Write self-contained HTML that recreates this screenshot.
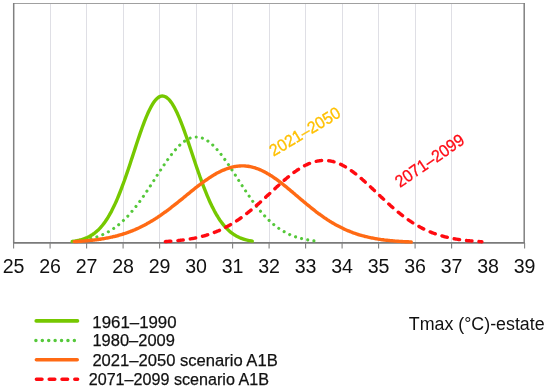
<!DOCTYPE html>
<html><head><meta charset="utf-8"><title>Tmax</title>
<style>
html,body{margin:0;padding:0;background:#fff;}
svg{display:block;}
text{font-family:"Liberation Sans",sans-serif;}
</style></head><body>
<svg width="550" height="389" viewBox="0 0 550 389">
<rect width="550" height="389" fill="#fff"/>
<g stroke="#dfdfe5" stroke-width="1"><line x1="50.5" y1="3.4" x2="50.5" y2="242" /><line x1="86.5" y1="3.4" x2="86.5" y2="242" /><line x1="123.5" y1="3.4" x2="123.5" y2="242" /><line x1="159.5" y1="3.4" x2="159.5" y2="242" /><line x1="196.5" y1="3.4" x2="196.5" y2="242" /><line x1="232.5" y1="3.4" x2="232.5" y2="242" /><line x1="269.5" y1="3.4" x2="269.5" y2="242" /><line x1="305.5" y1="3.4" x2="305.5" y2="242" /><line x1="342.5" y1="3.4" x2="342.5" y2="242" /><line x1="378.5" y1="3.4" x2="378.5" y2="242" /><line x1="415.5" y1="3.4" x2="415.5" y2="242" /><line x1="451.5" y1="3.4" x2="451.5" y2="242" /></g>
<line x1="13" y1="3.5" x2="524.9" y2="3.5" stroke="#a0a0a0" stroke-width="1"/>
<line x1="13.7" y1="3" x2="13.7" y2="243" stroke="#808080" stroke-width="1.5"/>
<line x1="524.2" y1="3" x2="524.2" y2="243" stroke="#808080" stroke-width="1.5"/>
<line x1="13" y1="242.8" x2="524.9" y2="242.8" stroke="#7a7a7a" stroke-width="1.7"/>
<path d="M72.3 241.5 L72.8 241.4 L73.3 241.4 L73.8 241.3 L74.3 241.3 L74.8 241.2 L75.3 241.2 L75.8 241.1 L76.3 241.1 L76.8 241.0 L77.3 241.0 L77.8 240.9 L78.3 240.9 L78.8 240.8 L79.3 240.7 L79.8 240.7 L80.3 240.6 L80.8 240.5 L81.3 240.5 L81.8 240.4 L82.3 240.3 L82.8 240.2 L83.3 240.1 L83.8 240.1 L84.3 240.0 L84.8 239.9 L85.3 239.8 L85.8 239.7 L86.3 239.6 L86.8 239.5 L87.3 239.4 L87.8 239.3 L88.3 239.2 L88.8 239.1 L89.3 239.0 L89.8 238.9 L90.3 238.7 L90.8 238.6 L91.3 238.5 L91.8 238.4 L92.3 238.2 L92.8 238.1 L93.3 238.0 L93.8 237.8 L94.3 237.7 L94.8 237.5 L95.3 237.4 L95.8 237.2 L96.3 237.0 L96.8 236.9 L97.3 236.7 L97.8 236.5 L98.3 236.4 L98.8 236.2 L99.3 236.0 L99.8 235.8 L100.3 235.6 L100.8 235.4 L101.3 235.2 L101.8 235.0 L102.3 234.8 L102.8 234.6 L103.3 234.3 L103.8 234.1 L104.3 233.9 L104.8 233.6 L105.3 233.4 L105.8 233.1 L106.3 232.9 L106.8 232.6 L107.3 232.4 L107.8 232.1 L108.3 231.8 L108.8 231.5 L109.3 231.2 L109.8 230.9 L110.3 230.6 L110.8 230.3 L111.3 230.0 L111.8 229.7 L112.3 229.4 L112.8 229.1 L113.3 228.7 L113.8 228.4 L114.3 228.0 L114.8 227.7 L115.3 227.3 L115.8 226.9 L116.3 226.6 L116.8 226.2 L117.3 225.8 L117.8 225.4 L118.3 225.0 L118.8 224.6 L119.3 224.2 L119.8 223.8 L120.3 223.3 L120.8 222.9 L121.3 222.5 L121.8 222.0 L122.3 221.6 L122.8 221.1 L123.3 220.6 L123.8 220.1 L124.3 219.7 L124.8 219.2 L125.3 218.7 L125.8 218.2 L126.3 217.7 L126.8 217.1 L127.3 216.6 L127.8 216.1 L128.3 215.6 L128.8 215.0 L129.3 214.5 L129.8 213.9 L130.3 213.3 L130.8 212.8 L131.3 212.2 L131.8 211.6 L132.3 211.0 L132.8 210.4 L133.3 209.8 L133.8 209.2 L134.3 208.6 L134.8 207.9 L135.3 207.3 L135.8 206.7 L136.3 206.0 L136.8 205.4 L137.3 204.7 L137.8 204.1 L138.3 203.4 L138.8 202.7 L139.3 202.0 L139.8 201.4 L140.3 200.7 L140.8 200.0 L141.3 199.3 L141.8 198.6 L142.3 197.9 L142.8 197.2 L143.3 196.4 L143.8 195.7 L144.3 195.0 L144.8 194.3 L145.3 193.5 L145.8 192.8 L146.3 192.0 L146.8 191.3 L147.3 190.5 L147.8 189.8 L148.3 189.0 L148.8 188.3 L149.3 187.5 L149.8 186.7 L150.3 186.0 L150.8 185.2 L151.3 184.4 L151.8 183.7 L152.3 182.9 L152.8 182.1 L153.3 181.3 L153.8 180.6 L154.3 179.8 L154.8 179.0 L155.3 178.2 L155.8 177.5 L156.3 176.7 L156.8 175.9 L157.3 175.1 L157.8 174.4 L158.3 173.6 L158.8 172.8 L159.3 172.0 L159.8 171.3 L160.3 170.5 L160.8 169.7 L161.3 169.0 L161.8 168.2 L162.3 167.5 L162.8 166.7 L163.3 166.0 L163.8 165.2 L164.3 164.5 L164.8 163.8 L165.3 163.0 L165.8 162.3 L166.3 161.6 L166.8 160.9 L167.3 160.2 L167.8 159.5 L168.3 158.8 L168.8 158.1 L169.3 157.4 L169.8 156.7 L170.3 156.1 L170.8 155.4 L171.3 154.8 L171.8 154.1 L172.3 153.5 L172.8 152.9 L173.3 152.2 L173.8 151.6 L174.3 151.0 L174.8 150.4 L175.3 149.9 L175.8 149.3 L176.3 148.7 L176.8 148.2 L177.3 147.7 L177.8 147.1 L178.3 146.6 L178.8 146.1 L179.3 145.6 L179.8 145.1 L180.3 144.7 L180.8 144.2 L181.3 143.8 L181.8 143.3 L182.3 142.9 L182.8 142.5 L183.3 142.1 L183.8 141.8 L184.3 141.4 L184.8 141.0 L185.3 140.7 L185.8 140.4 L186.3 140.1 L186.8 139.8 L187.3 139.5 L187.8 139.2 L188.3 139.0 L188.8 138.7 L189.3 138.5 L189.8 138.3 L190.3 138.1 L190.8 137.9 L191.3 137.8 L191.8 137.6 L192.3 137.5 L192.8 137.4 L193.3 137.3 L193.8 137.2 L194.3 137.1 L194.8 137.1 L195.3 137.0 L195.8 137.0 L196.3 137.0 L196.8 137.0 L197.3 137.0 L197.8 137.1 L198.3 137.1 L198.8 137.2 L199.3 137.3 L199.8 137.4 L200.3 137.5 L200.8 137.6 L201.3 137.8 L201.8 137.9 L202.3 138.1 L202.8 138.3 L203.3 138.5 L203.8 138.7 L204.3 139.0 L204.8 139.2 L205.3 139.5 L205.8 139.8 L206.3 140.1 L206.8 140.4 L207.3 140.7 L207.8 141.0 L208.3 141.4 L208.8 141.8 L209.3 142.1 L209.8 142.5 L210.3 142.9 L210.8 143.3 L211.3 143.8 L211.8 144.2 L212.3 144.7 L212.8 145.1 L213.3 145.6 L213.8 146.1 L214.3 146.6 L214.8 147.1 L215.3 147.7 L215.8 148.2 L216.3 148.7 L216.8 149.3 L217.3 149.9 L217.8 150.4 L218.3 151.0 L218.8 151.6 L219.3 152.2 L219.8 152.9 L220.3 153.5 L220.8 154.1 L221.3 154.8 L221.8 155.4 L222.3 156.1 L222.8 156.7 L223.3 157.4 L223.8 158.1 L224.3 158.8 L224.8 159.5 L225.3 160.2 L225.8 160.9 L226.3 161.6 L226.8 162.3 L227.3 163.0 L227.8 163.8 L228.3 164.5 L228.8 165.2 L229.3 166.0 L229.8 166.7 L230.3 167.5 L230.8 168.2 L231.3 169.0 L231.8 169.7 L232.3 170.5 L232.8 171.3 L233.3 172.0 L233.8 172.8 L234.3 173.6 L234.8 174.4 L235.3 175.1 L235.8 175.9 L236.3 176.7 L236.8 177.5 L237.3 178.2 L237.8 179.0 L238.3 179.8 L238.8 180.6 L239.3 181.3 L239.8 182.1 L240.3 182.9 L240.8 183.7 L241.3 184.4 L241.8 185.2 L242.3 186.0 L242.8 186.7 L243.3 187.5 L243.8 188.3 L244.3 189.0 L244.8 189.8 L245.3 190.5 L245.8 191.3 L246.3 192.0 L246.8 192.8 L247.3 193.5 L247.8 194.3 L248.3 195.0 L248.8 195.7 L249.3 196.4 L249.8 197.2 L250.3 197.9 L250.8 198.6 L251.3 199.3 L251.8 200.0 L252.3 200.7 L252.8 201.4 L253.3 202.0 L253.8 202.7 L254.3 203.4 L254.8 204.1 L255.3 204.7 L255.8 205.4 L256.3 206.0 L256.8 206.7 L257.3 207.3 L257.8 207.9 L258.3 208.6 L258.8 209.2 L259.3 209.8 L259.8 210.4 L260.3 211.0 L260.8 211.6 L261.3 212.2 L261.8 212.8 L262.3 213.3 L262.8 213.9 L263.3 214.5 L263.8 215.0 L264.3 215.6 L264.8 216.1 L265.3 216.6 L265.8 217.1 L266.3 217.7 L266.8 218.2 L267.3 218.7 L267.8 219.2 L268.3 219.7 L268.8 220.1 L269.3 220.6 L269.8 221.1 L270.3 221.6 L270.8 222.0 L271.3 222.5 L271.8 222.9 L272.3 223.3 L272.8 223.8 L273.3 224.2 L273.8 224.6 L274.3 225.0 L274.8 225.4 L275.3 225.8 L275.8 226.2 L276.3 226.6 L276.8 226.9 L277.3 227.3 L277.8 227.7 L278.3 228.0 L278.8 228.4 L279.3 228.7 L279.8 229.1 L280.3 229.4 L280.8 229.7 L281.3 230.0 L281.8 230.3 L282.3 230.6 L282.8 230.9 L283.3 231.2 L283.8 231.5 L284.3 231.8 L284.8 232.1 L285.3 232.4 L285.8 232.6 L286.3 232.9 L286.8 233.1 L287.3 233.4 L287.8 233.6 L288.3 233.9 L288.8 234.1 L289.3 234.3 L289.8 234.6 L290.3 234.8 L290.8 235.0 L291.3 235.2 L291.8 235.4 L292.3 235.6 L292.8 235.8 L293.3 236.0 L293.8 236.2 L294.3 236.4 L294.8 236.5 L295.3 236.7 L295.8 236.9 L296.3 237.0 L296.8 237.2 L297.3 237.4 L297.8 237.5 L298.3 237.7 L298.8 237.8 L299.3 238.0 L299.8 238.1 L300.3 238.2 L300.8 238.4 L301.3 238.5 L301.8 238.6 L302.3 238.7 L302.8 238.9 L303.3 239.0 L303.8 239.1 L304.3 239.2 L304.8 239.3 L305.3 239.4 L305.8 239.5 L306.3 239.6 L306.8 239.7 L307.3 239.8 L307.8 239.9 L308.3 240.0 L308.8 240.1 L309.3 240.1 L309.8 240.2 L310.3 240.3 L310.8 240.4 L311.3 240.5 L311.8 240.5 L312.3 240.6 L312.8 240.7 L313.3 240.7 L313.8 240.8 L314.3 240.9 L314.8 240.9 L315.3 241.0 L315.8 241.0" fill="none" stroke="#55c83a" stroke-width="3.1" stroke-linecap="round" stroke-dasharray="0.01 6.28"/><path d="M72.3 241.4 L73.3 241.3 L74.3 241.1 L75.3 241.0 L76.3 240.8 L77.3 240.6 L78.3 240.4 L79.3 240.2 L80.3 239.9 L81.3 239.7 L82.3 239.4 L83.3 239.0 L84.3 238.7 L85.3 238.3 L86.3 237.9 L87.3 237.5 L88.3 237.0 L89.3 236.5 L90.3 235.9 L91.3 235.3 L92.3 234.7 L93.3 234.0 L94.3 233.3 L95.3 232.5 L96.3 231.7 L97.3 230.8 L98.3 229.9 L99.3 228.9 L100.3 227.8 L101.3 226.7 L102.3 225.5 L103.3 224.2 L104.3 222.9 L105.3 221.5 L106.3 220.0 L107.3 218.5 L108.3 216.9 L109.3 215.2 L110.3 213.4 L111.3 211.6 L112.3 209.6 L113.3 207.6 L114.3 205.6 L115.3 203.4 L116.3 201.2 L117.3 198.9 L118.3 196.5 L119.3 194.0 L120.3 191.5 L121.3 188.9 L122.3 186.2 L123.3 183.5 L124.3 180.8 L125.3 177.9 L126.3 175.0 L127.3 172.1 L128.3 169.2 L129.3 166.2 L130.3 163.2 L131.3 160.1 L132.3 157.1 L133.3 154.0 L134.3 150.9 L135.3 147.9 L136.3 144.8 L137.3 141.8 L138.3 138.8 L139.3 135.9 L140.3 132.9 L141.3 130.1 L142.3 127.3 L143.3 124.6 L144.3 121.9 L145.3 119.4 L146.3 116.9 L147.3 114.6 L148.3 112.3 L149.3 110.2 L150.3 108.2 L151.3 106.4 L152.3 104.6 L153.3 103.0 L154.3 101.6 L155.3 100.3 L156.3 99.2 L157.3 98.2 L158.3 97.5 L159.3 96.8 L160.3 96.4 L161.3 96.1 L162.3 96.0 L163.3 96.1 L164.3 96.3 L165.3 96.7 L166.3 97.3 L167.3 98.0 L168.3 98.9 L169.3 99.9 L170.3 101.1 L171.3 102.4 L172.3 103.9 L173.3 105.5 L174.3 107.3 L175.3 109.2 L176.3 111.2 L177.3 113.3 L178.3 115.6 L179.3 117.9 L180.3 120.3 L181.3 122.9 L182.3 125.5 L183.3 128.2 L184.3 130.9 L185.3 133.7 L186.3 136.5 L187.3 139.4 L188.3 142.4 L189.3 145.3 L190.3 148.3 L191.3 151.3 L192.3 154.3 L193.3 157.3 L194.3 160.3 L195.3 163.2 L196.3 166.2 L197.3 169.1 L198.3 172.0 L199.3 174.8 L200.3 177.7 L201.3 180.4 L202.3 183.1 L203.3 185.8 L204.3 188.4 L205.3 190.9 L206.3 193.4 L207.3 195.8 L208.3 198.2 L209.3 200.5 L210.3 202.7 L211.3 204.8 L212.3 206.9 L213.3 208.8 L214.3 210.8 L215.3 212.6 L216.3 214.4 L217.3 216.0 L218.3 217.7 L219.3 219.2 L220.3 220.7 L221.3 222.1 L222.3 223.4 L223.3 224.7 L224.3 225.9 L225.3 227.0 L226.3 228.1 L227.3 229.1 L228.3 230.1 L229.3 231.0 L230.3 231.9 L231.3 232.7 L232.3 233.4 L233.3 234.1 L234.3 234.8 L235.3 235.4 L236.3 236.0 L237.3 236.5 L238.3 237.0 L239.3 237.5 L240.3 237.9 L241.3 238.3 L242.3 238.7 L243.3 239.0 L244.3 239.3 L245.3 239.6 L246.3 239.9 L247.3 240.1 L248.3 240.4 L249.3 240.6 L250.3 240.8 L251.3 240.9 L252.3 241.1" fill="none" stroke="#76c800" stroke-width="3.4" stroke-linecap="round"/><path d="M165.4 241.6 L165.9 241.5 L166.4 241.5 L166.9 241.5 L167.4 241.4 L167.9 241.4 L168.4 241.4 L168.9 241.3 L169.4 241.3 L169.9 241.3 L170.4 241.2 L170.9 241.2 L171.4 241.2 L171.9 241.1 L172.4 241.1 L172.9 241.0 L173.4 241.0 L173.9 241.0 L174.4 240.9 L174.9 240.9 L175.4 240.8 L175.9 240.8 L176.4 240.7 L176.9 240.7 L177.4 240.6 L177.9 240.6 L178.4 240.5 L178.9 240.5 L179.4 240.4 L179.9 240.4 L180.4 240.3 L180.9 240.3 L181.4 240.2 L181.9 240.1 L182.4 240.1 L182.9 240.0 L183.4 240.0 L183.9 239.9 L184.4 239.8 L184.9 239.8 L185.4 239.7 L185.9 239.6 L186.4 239.5 L186.9 239.5 L187.4 239.4 L187.9 239.3 L188.4 239.2 L188.9 239.2 L189.4 239.1 L189.9 239.0 L190.4 238.9 L190.9 238.8 L191.4 238.7 L191.9 238.6 L192.4 238.6 L192.9 238.5 L193.4 238.4 L193.9 238.3 L194.4 238.2 L194.9 238.1 L195.4 238.0 L195.9 237.9 L196.4 237.8 L196.9 237.7 L197.4 237.5 L197.9 237.4 L198.4 237.3 L198.9 237.2 L199.4 237.1 L199.9 237.0 L200.4 236.8 L200.9 236.7 L201.4 236.6 L201.9 236.5 L202.4 236.3 L202.9 236.2 L203.4 236.1 L203.9 235.9 L204.4 235.8 L204.9 235.6 L205.4 235.5 L205.9 235.3 L206.4 235.2 L206.9 235.0 L207.4 234.9 L207.9 234.7 L208.4 234.6 L208.9 234.4 L209.4 234.2 L209.9 234.1 L210.4 233.9 L210.9 233.7 L211.4 233.5 L211.9 233.4 L212.4 233.2 L212.9 233.0 L213.4 232.8 L213.9 232.6 L214.4 232.4 L214.9 232.2 L215.4 232.0 L215.9 231.8 L216.4 231.6 L216.9 231.4 L217.4 231.2 L217.9 231.0 L218.4 230.8 L218.9 230.6 L219.4 230.4 L219.9 230.1 L220.4 229.9 L220.9 229.7 L221.4 229.4 L221.9 229.2 L222.4 229.0 L222.9 228.7 L223.4 228.5 L223.9 228.2 L224.4 228.0 L224.9 227.7 L225.4 227.5 L225.9 227.2 L226.4 226.9 L226.9 226.7 L227.4 226.4 L227.9 226.1 L228.4 225.9 L228.9 225.6 L229.4 225.3 L229.9 225.0 L230.4 224.7 L230.9 224.4 L231.4 224.1 L231.9 223.8 L232.4 223.5 L232.9 223.2 L233.4 222.9 L233.9 222.6 L234.4 222.3 L234.9 222.0 L235.4 221.7 L235.9 221.3 L236.4 221.0 L236.9 220.7 L237.4 220.3 L237.9 220.0 L238.4 219.7 L238.9 219.3 L239.4 219.0 L239.9 218.6 L240.4 218.3 L240.9 217.9 L241.4 217.6 L241.9 217.2 L242.4 216.8 L242.9 216.5 L243.4 216.1 L243.9 215.7 L244.4 215.4 L244.9 215.0 L245.4 214.6 L245.9 214.2 L246.4 213.8 L246.9 213.4 L247.4 213.0 L247.9 212.6 L248.4 212.2 L248.9 211.8 L249.4 211.4 L249.9 211.0 L250.4 210.6 L250.9 210.2 L251.4 209.8 L251.9 209.4 L252.4 209.0 L252.9 208.6 L253.4 208.1 L253.9 207.7 L254.4 207.3 L254.9 206.9 L255.4 206.4 L255.9 206.0 L256.4 205.6 L256.9 205.1 L257.4 204.7 L257.9 204.2 L258.4 203.8 L258.9 203.4 L259.4 202.9 L259.9 202.5 L260.4 202.0 L260.9 201.6 L261.4 201.1 L261.9 200.7 L262.4 200.2 L262.9 199.8 L263.4 199.3 L263.9 198.8 L264.4 198.4 L264.9 197.9 L265.4 197.5 L265.9 197.0 L266.4 196.5 L266.9 196.1 L267.4 195.6 L267.9 195.2 L268.4 194.7 L268.9 194.2 L269.4 193.8 L269.9 193.3 L270.4 192.8 L270.9 192.4 L271.4 191.9 L271.9 191.4 L272.4 191.0 L272.9 190.5 L273.4 190.1 L273.9 189.6 L274.4 189.1 L274.9 188.7 L275.4 188.2 L275.9 187.7 L276.4 187.3 L276.9 186.8 L277.4 186.4 L277.9 185.9 L278.4 185.5 L278.9 185.0 L279.4 184.6 L279.9 184.1 L280.4 183.7 L280.9 183.2 L281.4 182.8 L281.9 182.3 L282.4 181.9 L282.9 181.4 L283.4 181.0 L283.9 180.6 L284.4 180.1 L284.9 179.7 L285.4 179.3 L285.9 178.9 L286.4 178.4 L286.9 178.0 L287.4 177.6 L287.9 177.2 L288.4 176.8 L288.9 176.4 L289.4 176.0 L289.9 175.6 L290.4 175.2 L290.9 174.8 L291.4 174.4 L291.9 174.0 L292.4 173.6 L292.9 173.2 L293.4 172.9 L293.9 172.5 L294.4 172.1 L294.9 171.8 L295.4 171.4 L295.9 171.1 L296.4 170.7 L296.9 170.4 L297.4 170.0 L297.9 169.7 L298.4 169.4 L298.9 169.0 L299.4 168.7 L299.9 168.4 L300.4 168.1 L300.9 167.8 L301.4 167.5 L301.9 167.2 L302.4 166.9 L302.9 166.6 L303.4 166.3 L303.9 166.1 L304.4 165.8 L304.9 165.5 L305.4 165.3 L305.9 165.0 L306.4 164.8 L306.9 164.6 L307.4 164.3 L307.9 164.1 L308.4 163.9 L308.9 163.7 L309.4 163.5 L309.9 163.3 L310.4 163.1 L310.9 162.9 L311.4 162.7 L311.9 162.5 L312.4 162.4 L312.9 162.2 L313.4 162.0 L313.9 161.9 L314.4 161.8 L314.9 161.6 L315.4 161.5 L315.9 161.4 L316.4 161.3 L316.9 161.2 L317.4 161.1 L317.9 161.0 L318.4 160.9 L318.9 160.8 L319.4 160.7 L319.9 160.7 L320.4 160.6 L320.9 160.6 L321.4 160.5 L321.9 160.5 L322.4 160.4 L322.9 160.4 L323.4 160.4 L323.9 160.4 L324.4 160.4 L324.9 160.4 L325.4 160.4 L325.9 160.4 L326.4 160.5 L326.9 160.5 L327.4 160.6 L327.9 160.6 L328.4 160.7 L328.9 160.7 L329.4 160.8 L329.9 160.9 L330.4 161.0 L330.9 161.1 L331.4 161.2 L331.9 161.3 L332.4 161.4 L332.9 161.5 L333.4 161.7 L333.9 161.8 L334.4 161.9 L334.9 162.1 L335.4 162.2 L335.9 162.4 L336.4 162.6 L336.9 162.8 L337.4 163.0 L337.9 163.2 L338.4 163.4 L338.9 163.6 L339.4 163.8 L339.9 164.0 L340.4 164.2 L340.9 164.5 L341.4 164.7 L341.9 164.9 L342.4 165.2 L342.9 165.5 L343.4 165.7 L343.9 166.0 L344.4 166.3 L344.9 166.5 L345.4 166.8 L345.9 167.1 L346.4 167.4 L346.9 167.7 L347.4 168.0 L347.9 168.4 L348.4 168.7 L348.9 169.0 L349.4 169.3 L349.9 169.7 L350.4 170.0 L350.9 170.4 L351.4 170.7 L351.9 171.1 L352.4 171.4 L352.9 171.8 L353.4 172.2 L353.9 172.6 L354.4 172.9 L354.9 173.3 L355.4 173.7 L355.9 174.1 L356.4 174.5 L356.9 174.9 L357.4 175.3 L357.9 175.7 L358.4 176.1 L358.9 176.5 L359.4 176.9 L359.9 177.4 L360.4 177.8 L360.9 178.2 L361.4 178.6 L361.9 179.1 L362.4 179.5 L362.9 180.0 L363.4 180.4 L363.9 180.8 L364.4 181.3 L364.9 181.7 L365.4 182.2 L365.9 182.6 L366.4 183.1 L366.9 183.5 L367.4 184.0 L367.9 184.5 L368.4 184.9 L368.9 185.4 L369.4 185.9 L369.9 186.3 L370.4 186.8 L370.9 187.3 L371.4 187.7 L371.9 188.2 L372.4 188.7 L372.9 189.1 L373.4 189.6 L373.9 190.1 L374.4 190.6 L374.9 191.0 L375.4 191.5 L375.9 192.0 L376.4 192.5 L376.9 192.9 L377.4 193.4 L377.9 193.9 L378.4 194.4 L378.9 194.8 L379.4 195.3 L379.9 195.8 L380.4 196.3 L380.9 196.7 L381.4 197.2 L381.9 197.7 L382.4 198.1 L382.9 198.6 L383.4 199.1 L383.9 199.5 L384.4 200.0 L384.9 200.5 L385.4 200.9 L385.9 201.4 L386.4 201.9 L386.9 202.3 L387.4 202.8 L387.9 203.2 L388.4 203.7 L388.9 204.1 L389.4 204.6 L389.9 205.0 L390.4 205.5 L390.9 205.9 L391.4 206.4 L391.9 206.8 L392.4 207.2 L392.9 207.7 L393.4 208.1 L393.9 208.5 L394.4 209.0 L394.9 209.4 L395.4 209.8 L395.9 210.3 L396.4 210.7 L396.9 211.1 L397.4 211.5 L397.9 211.9 L398.4 212.3 L398.9 212.7 L399.4 213.1 L399.9 213.5 L400.4 213.9 L400.9 214.3 L401.4 214.7 L401.9 215.1 L402.4 215.5 L402.9 215.9 L403.4 216.3 L403.9 216.6 L404.4 217.0 L404.9 217.4 L405.4 217.7 L405.9 218.1 L406.4 218.5 L406.9 218.8 L407.4 219.2 L407.9 219.5 L408.4 219.9 L408.9 220.2 L409.4 220.6 L409.9 220.9 L410.4 221.2 L410.9 221.6 L411.4 221.9 L411.9 222.2 L412.4 222.6 L412.9 222.9 L413.4 223.2 L413.9 223.5 L414.4 223.8 L414.9 224.1 L415.4 224.4 L415.9 224.7 L416.4 225.0 L416.9 225.3 L417.4 225.6 L417.9 225.9 L418.4 226.2 L418.9 226.4 L419.4 226.7 L419.9 227.0 L420.4 227.3 L420.9 227.5 L421.4 227.8 L421.9 228.1 L422.4 228.3 L422.9 228.6 L423.4 228.8 L423.9 229.1 L424.4 229.3 L424.9 229.5 L425.4 229.8 L425.9 230.0 L426.4 230.2 L426.9 230.5 L427.4 230.7 L427.9 230.9 L428.4 231.1 L428.9 231.3 L429.4 231.6 L429.9 231.8 L430.4 232.0 L430.9 232.2 L431.4 232.4 L431.9 232.6 L432.4 232.8 L432.9 233.0 L433.4 233.2 L433.9 233.3 L434.4 233.5 L434.9 233.7 L435.4 233.9 L435.9 234.1 L436.4 234.2 L436.9 234.4 L437.4 234.6 L437.9 234.7 L438.4 234.9 L438.9 235.0 L439.4 235.2 L439.9 235.4 L440.4 235.5 L440.9 235.7 L441.4 235.8 L441.9 235.9 L442.4 236.1 L442.9 236.2 L443.4 236.4 L443.9 236.5 L444.4 236.6 L444.9 236.8 L445.4 236.9 L445.9 237.0 L446.4 237.1 L446.9 237.2 L447.4 237.4 L447.9 237.5 L448.4 237.6 L448.9 237.7 L449.4 237.8 L449.9 237.9 L450.4 238.0 L450.9 238.1 L451.4 238.2 L451.9 238.3 L452.4 238.4 L452.9 238.5 L453.4 238.6 L453.9 238.7 L454.4 238.8 L454.9 238.9 L455.4 239.0 L455.9 239.1 L456.4 239.1 L456.9 239.2 L457.4 239.3 L457.9 239.4 L458.4 239.5 L458.9 239.5 L459.4 239.6 L459.9 239.7 L460.4 239.8 L460.9 239.8 L461.4 239.9 L461.9 240.0 L462.4 240.0 L462.9 240.1 L463.4 240.2 L463.9 240.2 L464.4 240.3 L464.9 240.3 L465.4 240.4 L465.9 240.4 L466.4 240.5 L466.9 240.6 L467.4 240.6 L467.9 240.7 L468.4 240.7 L468.9 240.8 L469.4 240.8 L469.9 240.9 L470.4 240.9 L470.9 240.9 L471.4 241.0 L471.9 241.0 L472.4 241.1 L472.9 241.1 L473.4 241.2 L473.9 241.2 L474.4 241.2 L474.9 241.3 L475.4 241.3 L475.9 241.3 L476.4 241.4 L476.9 241.4 L477.4 241.4 L477.9 241.5 L478.4 241.5 L478.9 241.5 L479.4 241.6 L479.9 241.6 L480.4 241.6 L480.9 241.6 L481.4 241.7 L481.9 241.7" fill="none" stroke="#ff0a10" stroke-width="3.4" stroke-linecap="round" stroke-dasharray="5.5 7.05"/><path d="M74.2 241.6 L75.2 241.6 L76.2 241.5 L77.2 241.5 L78.2 241.4 L79.2 241.3 L80.2 241.3 L81.2 241.2 L82.2 241.1 L83.2 241.1 L84.2 241.0 L85.2 240.9 L86.2 240.8 L87.2 240.7 L88.2 240.6 L89.2 240.5 L90.2 240.4 L91.2 240.3 L92.2 240.2 L93.2 240.1 L94.2 240.0 L95.2 239.9 L96.2 239.8 L97.2 239.6 L98.2 239.5 L99.2 239.3 L100.2 239.2 L101.2 239.0 L102.2 238.9 L103.2 238.7 L104.2 238.6 L105.2 238.4 L106.2 238.2 L107.2 238.0 L108.2 237.8 L109.2 237.6 L110.2 237.4 L111.2 237.2 L112.2 237.0 L113.2 236.7 L114.2 236.5 L115.2 236.3 L116.2 236.0 L117.2 235.8 L118.2 235.5 L119.2 235.2 L120.2 234.9 L121.2 234.6 L122.2 234.3 L123.2 234.0 L124.2 233.7 L125.2 233.4 L126.2 233.0 L127.2 232.7 L128.2 232.3 L129.2 232.0 L130.2 231.6 L131.2 231.2 L132.2 230.8 L133.2 230.4 L134.2 230.0 L135.2 229.6 L136.2 229.1 L137.2 228.7 L138.2 228.2 L139.2 227.8 L140.2 227.3 L141.2 226.8 L142.2 226.3 L143.2 225.8 L144.2 225.3 L145.2 224.7 L146.2 224.2 L147.2 223.6 L148.2 223.1 L149.2 222.5 L150.2 221.9 L151.2 221.3 L152.2 220.7 L153.2 220.1 L154.2 219.5 L155.2 218.9 L156.2 218.2 L157.2 217.6 L158.2 216.9 L159.2 216.2 L160.2 215.6 L161.2 214.9 L162.2 214.2 L163.2 213.5 L164.2 212.7 L165.2 212.0 L166.2 211.3 L167.2 210.5 L168.2 209.8 L169.2 209.0 L170.2 208.3 L171.2 207.5 L172.2 206.7 L173.2 206.0 L174.2 205.2 L175.2 204.4 L176.2 203.6 L177.2 202.8 L178.2 202.0 L179.2 201.2 L180.2 200.4 L181.2 199.6 L182.2 198.8 L183.2 198.0 L184.2 197.1 L185.2 196.3 L186.2 195.5 L187.2 194.7 L188.2 193.9 L189.2 193.1 L190.2 192.3 L191.2 191.4 L192.2 190.6 L193.2 189.8 L194.2 189.0 L195.2 188.2 L196.2 187.5 L197.2 186.7 L198.2 185.9 L199.2 185.1 L200.2 184.4 L201.2 183.6 L202.2 182.9 L203.2 182.1 L204.2 181.4 L205.2 180.7 L206.2 180.0 L207.2 179.3 L208.2 178.6 L209.2 177.9 L210.2 177.3 L211.2 176.6 L212.2 176.0 L213.2 175.4 L214.2 174.8 L215.2 174.2 L216.2 173.6 L217.2 173.1 L218.2 172.6 L219.2 172.0 L220.2 171.6 L221.2 171.1 L222.2 170.6 L223.2 170.2 L224.2 169.8 L225.2 169.4 L226.2 169.0 L227.2 168.6 L228.2 168.3 L229.2 168.0 L230.2 167.7 L231.2 167.4 L232.2 167.1 L233.2 166.9 L234.2 166.7 L235.2 166.5 L236.2 166.4 L237.2 166.2 L238.2 166.1 L239.2 166.0 L240.2 166.0 L241.2 165.9 L242.2 165.9 L243.2 165.9 L244.2 165.9 L245.2 166.0 L246.2 166.1 L247.2 166.2 L248.2 166.3 L249.2 166.5 L250.2 166.7 L251.2 166.9 L252.2 167.1 L253.2 167.4 L254.2 167.6 L255.2 167.9 L256.2 168.3 L257.2 168.6 L258.2 169.0 L259.2 169.4 L260.2 169.8 L261.2 170.3 L262.2 170.7 L263.2 171.2 L264.2 171.7 L265.2 172.3 L266.2 172.8 L267.2 173.4 L268.2 173.9 L269.2 174.5 L270.2 175.2 L271.2 175.8 L272.2 176.4 L273.2 177.1 L274.2 177.8 L275.2 178.5 L276.2 179.2 L277.2 179.9 L278.2 180.7 L279.2 181.4 L280.2 182.2 L281.2 182.9 L282.2 183.7 L283.2 184.5 L284.2 185.3 L285.2 186.1 L286.2 186.9 L287.2 187.7 L288.2 188.6 L289.2 189.4 L290.2 190.2 L291.2 191.1 L292.2 191.9 L293.2 192.8 L294.2 193.6 L295.2 194.5 L296.2 195.3 L297.2 196.2 L298.2 197.0 L299.2 197.9 L300.2 198.7 L301.2 199.6 L302.2 200.4 L303.2 201.3 L304.2 202.1 L305.2 202.9 L306.2 203.8 L307.2 204.6 L308.2 205.4 L309.2 206.2 L310.2 207.0 L311.2 207.8 L312.2 208.6 L313.2 209.4 L314.2 210.2 L315.2 211.0 L316.2 211.8 L317.2 212.5 L318.2 213.3 L319.2 214.0 L320.2 214.7 L321.2 215.5 L322.2 216.2 L323.2 216.9 L324.2 217.6 L325.2 218.2 L326.2 218.9 L327.2 219.6 L328.2 220.2 L329.2 220.9 L330.2 221.5 L331.2 222.1 L332.2 222.7 L333.2 223.3 L334.2 223.9 L335.2 224.5 L336.2 225.0 L337.2 225.6 L338.2 226.1 L339.2 226.6 L340.2 227.1 L341.2 227.6 L342.2 228.1 L343.2 228.6 L344.2 229.1 L345.2 229.5 L346.2 230.0 L347.2 230.4 L348.2 230.8 L349.2 231.2 L350.2 231.6 L351.2 232.0 L352.2 232.4 L353.2 232.8 L354.2 233.1 L355.2 233.5 L356.2 233.8 L357.2 234.2 L358.2 234.5 L359.2 234.8 L360.2 235.1 L361.2 235.4 L362.2 235.7 L363.2 235.9 L364.2 236.2 L365.2 236.5 L366.2 236.7 L367.2 236.9 L368.2 237.2 L369.2 237.4 L370.2 237.6 L371.2 237.8 L372.2 238.0 L373.2 238.2 L374.2 238.4 L375.2 238.6 L376.2 238.8 L377.2 238.9 L378.2 239.1 L379.2 239.3 L380.2 239.4 L381.2 239.6 L382.2 239.7 L383.2 239.8 L384.2 240.0 L385.2 240.1 L386.2 240.2 L387.2 240.3 L388.2 240.4 L389.2 240.5 L390.2 240.6 L391.2 240.7 L392.2 240.8 L393.2 240.9 L394.2 241.0 L395.2 241.1 L396.2 241.1 L397.2 241.2 L398.2 241.3 L399.2 241.4 L400.2 241.4 L401.2 241.5 L402.2 241.5 L403.2 241.6 L404.2 241.6 L405.2 241.7 L406.2 241.7 L407.2 241.8 L408.2 241.8 L409.2 241.9 L410.2 241.9 L411.2 242.0" fill="none" stroke="#ff6a14" stroke-width="3.4" stroke-linecap="round"/>
<g stroke="#828282" stroke-width="1.1"><line x1="13.6" y1="242.9" x2="13.6" y2="248.6" /><line x1="50.1" y1="242.9" x2="50.1" y2="248.6" /><line x1="86.6" y1="242.9" x2="86.6" y2="248.6" /><line x1="123.1" y1="242.9" x2="123.1" y2="248.6" /><line x1="159.6" y1="242.9" x2="159.6" y2="248.6" /><line x1="196.1" y1="242.9" x2="196.1" y2="248.6" /><line x1="232.6" y1="242.9" x2="232.6" y2="248.6" /><line x1="269.1" y1="242.9" x2="269.1" y2="248.6" /><line x1="305.6" y1="242.9" x2="305.6" y2="248.6" /><line x1="342.1" y1="242.9" x2="342.1" y2="248.6" /><line x1="378.6" y1="242.9" x2="378.6" y2="248.6" /><line x1="415.1" y1="242.9" x2="415.1" y2="248.6" /><line x1="451.6" y1="242.9" x2="451.6" y2="248.6" /><line x1="524.6" y1="242.9" x2="524.6" y2="248.6" /></g>
<g font-size="19.6" fill="#111"><text x="13.6" y="272.9" text-anchor="middle">25</text><text x="50.1" y="272.9" text-anchor="middle">26</text><text x="86.6" y="272.9" text-anchor="middle">27</text><text x="123.1" y="272.9" text-anchor="middle">28</text><text x="159.6" y="272.9" text-anchor="middle">29</text><text x="196.1" y="272.9" text-anchor="middle">30</text><text x="232.6" y="272.9" text-anchor="middle">31</text><text x="269.1" y="272.9" text-anchor="middle">32</text><text x="305.6" y="272.9" text-anchor="middle">33</text><text x="342.1" y="272.9" text-anchor="middle">34</text><text x="378.6" y="272.9" text-anchor="middle">35</text><text x="415.1" y="272.9" text-anchor="middle">36</text><text x="451.6" y="272.9" text-anchor="middle">37</text><text x="488.1" y="272.9" text-anchor="middle">38</text><text x="524.6" y="272.9" text-anchor="middle">39</text></g>
<text x="408.8" y="330.4" font-size="17.6" fill="#111" textLength="135.8" lengthAdjust="spacingAndGlyphs">Tmax (°C)-estate</text>
<g font-size="16.8" fill="#111" stroke="#111" stroke-width="0.25">
<text x="92.3" y="328.3" textLength="84.3" lengthAdjust="spacingAndGlyphs">1961–1990</text>
<text x="92.4" y="346" textLength="82.5" lengthAdjust="spacingAndGlyphs">1980–2009</text>
<text x="92.4" y="365.8" textLength="185.3" lengthAdjust="spacingAndGlyphs">2021–2050 scenario A1B</text>
<text x="88.7" y="385.4" textLength="180.3" lengthAdjust="spacingAndGlyphs">2071–2099 scenario A1B</text>
</g>
<line x1="36.2" y1="320.9" x2="77.5" y2="320.9" stroke="#76c800" stroke-width="3.6" stroke-linecap="round"/>
<line x1="35.9" y1="340.5" x2="74.6" y2="340.5" stroke="#55c83a" stroke-width="3.5" stroke-linecap="round" stroke-dasharray="0.01 6.4"/>
<line x1="36.4" y1="359.8" x2="77.2" y2="359.8" stroke="#ff6a14" stroke-width="3.6" stroke-linecap="round"/>
<line x1="36.4" y1="379.3" x2="77.6" y2="379.3" stroke="#ff0a10" stroke-width="3.5" stroke-linecap="round" stroke-dasharray="5.6 7.2"/>
<text transform="translate(273.6,156.8) rotate(-30.8)" font-size="16.6" style="fill:#ffc000;stroke:#ffc000;stroke-width:0.3" textLength="79.5" lengthAdjust="spacingAndGlyphs">2021–2050</text>
<text transform="translate(400,188.1) rotate(-34.6)" font-size="17" style="fill:#ff0a14;stroke:#ff0a14;stroke-width:0.3" textLength="79.8" lengthAdjust="spacingAndGlyphs">2071–2099</text>
</svg>
</body></html>
